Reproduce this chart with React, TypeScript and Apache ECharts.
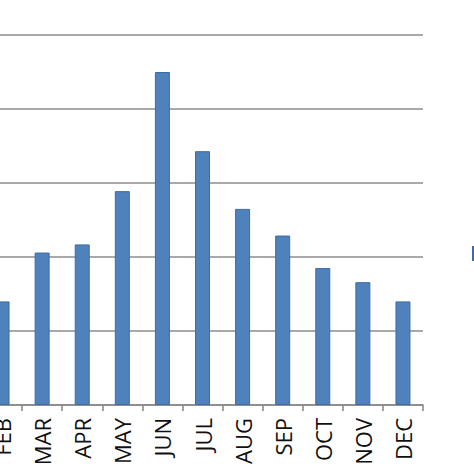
import React, { useEffect, useRef } from "react";
import * as echarts from "echarts";

const months = ["FEB", "MAR", "APR", "MAY", "JUN", "JUL", "AUG", "SEP", "OCT", "NOV", "DEC"];
const values = [14.0, 20.6, 21.7, 28.9, 45.0, 34.3, 26.5, 22.9, 18.5, 16.6, 14.0];
const seriesName = "Series1";

export default function App() {
  const ref = useRef<HTMLDivElement>(null);
  useEffect(() => {
    if (!ref.current) return;
    const chart = echarts.init(ref.current, undefined, { renderer: "svg" });
    chart.setOption({
      animation: false,
      backgroundColor: "#ffffff",
      legend: {
        show: true,
        left: 485,
        top: 241,
        itemWidth: 13,
        itemHeight: 13,
        icon: "rect",
        formatter: () => "",
        textStyle: { color: "#000", fontSize: 14, fontFamily: "Open Sans" },
        data: [seriesName],
      },
      grid: { left: 0, right: 69, top: 35, bottom: 69, containLabel: false },
      xAxis: {
        type: "category",
        data: months,
        axisLine: { show: true, lineStyle: { color: "#868686", width: 1.5 } },
        axisTick: { show: true, alignWithLabel: false, length: 6, lineStyle: { color: "#868686", width: 1.5 } },
        axisLabel: {
          rotate: 90,
          margin: 13,
          color: "#111",
          fontSize: 22,
          fontFamily: "Open Sans",
          interval: 0,
        },
      },
      yAxis: {
        type: "value",
        min: 0,
        max: 50,
        interval: 10,
        axisLabel: { show: false },
        axisLine: { show: false },
        axisTick: { show: false },
        splitLine: { show: true, lineStyle: { color: "#8c8c8c", width: 1.5 } },
      },
      series: [
        {
          name: seriesName,
          type: "bar",
          data: values,
          barWidth: 15,
          itemStyle: { color: "#4f81bd", borderColor: "#3d6ca3", borderWidth: 1 },
        },
      ],
    });
    return () => chart.dispose();
  }, []);
  return (
    <div style={{ position: "absolute", left: 0, top: 0, width: 474, height: 474, overflow: "hidden" }}>
      <div
        ref={ref}
        style={{ position: "absolute", left: -18, top: 0, width: 510, height: 474 }}
      />
    </div>
  );
}
